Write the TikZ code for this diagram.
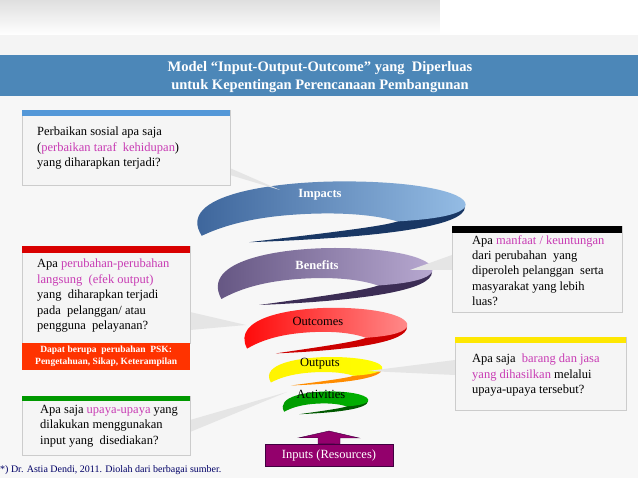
\documentclass[tikz,border=0pt]{standalone}
\usepackage{fontspec}
\setmainfont{Liberation Serif}
\definecolor{mag}{HTML}{C83CB4}
\definecolor{impA}{RGB}{55,95,150}
\definecolor{impB}{RGB}{150,190,230}
\definecolor{impD}{RGB}{25,55,100}
\definecolor{benA}{RGB}{95,80,125}
\definecolor{benB}{RGB}{185,170,210}
\definecolor{benD}{RGB}{60,45,85}
\tikzset{
 qbox/.style={fill=gray!8,draw=gray!40},
 qtext/.style={anchor=north west,align=left,font=\fontsize{12.5}{15.5}\selectfont,inner sep=0pt},
 lbl/.style={font=\fontsize{12.5}{14}\selectfont},
 wlbl/.style={text=white,font=\bfseries\fontsize{12.5}{14}\selectfont},
}
\newcommand\myband[7]{% cx cy rx ry col1 col2 dark
\begin{scope}[shift={(#1,#2)},x=#3pt,y=#4pt]
\fill[#7] (1,0) .. controls (1,-0.6) and (0.4,-0.95) .. (-0.6,-1.1) .. controls (0,-0.8) and (0.4,-0.6) .. (0.5,-0.45) -- cycle;
\shade[left color=#5,right color=#6] (-0.95,-0.9) .. controls (-1.15,0.4) and (-0.4,0.8) .. (0.1,0.8) .. controls (0.7,0.8) and (1.05,0.4) .. (1,0) .. controls (0.95,-0.3) and (0.7,-0.4) .. (0.5,-0.45) .. controls (0.3,-0.2) and (0,-0.15) .. (-0.3,-0.25) .. controls (-0.6,-0.35) and (-0.8,-0.6) .. cycle;
\end{scope}}
\begin{document}
\begin{tikzpicture}[x=1pt,y=-1pt]
\useasboundingbox (0,0) rectangle (638,478);
\fill[gray!6] (0,0) rectangle (638,478);
\shade[top color=gray!25,bottom color=white] (0,0) rectangle (638,35);
\fill[white] (440,0) rectangle (638,35);
\fill[white!70!gray!30] (0,35) rectangle (638,55);
\fill[blue!45!cyan!60!black!70!white] (0,55) rectangle (638,96);
\node[text=white,font=\bfseries\fontsize{14.5}{18}\selectfont,align=center] (title) at (320,77) {Model ``Input-Output-Outcome'' yang \ Diperluas\\untuk Kepentingan Perencanaan Pembangunan};
% spiral
\myband{325}{401}{43}{12}{green!60!black}{green!70!black}{green!35!black}
\myband{325}{369}{57}{15}{yellow!90!orange}{yellow}{orange!90!yellow}
\myband{325}{327}{82}{24}{red}{red!45!white}{red!80!black}
\myband{324}{272}{108}{30}{benA}{benB}{benD}
\myband{330}{207}{135}{32}{impA}{impB}{impD}
\node[wlbl] (imp) at (320,195) {Impacts};
\node[wlbl] (ben) at (317,265) {Benefits};
\node[lbl] (out) at (318,321) {Outcomes};
\node[lbl] (otp) at (320,364) {Outputs};
\node[lbl] (act) at (321,394) {Activities};
% inputs
\node[fill=violet!70!purple,draw=violet!50!black,text=white,minimum width=128pt,minimum height=22pt,lbl] (inp) at (329,455) {Inputs (Resources)};
\fill[violet!70!purple,draw=violet!50!black] ([xshift=-11pt]inp.north) -- ++(0,-6) -- ++(-19,0) -- (inp.north |- 0,431) -- ++(30,7) -- ++(-19,0) -- ++(0,6) -- cycle;
% callout wedges
\coordinate (p1) at (280,190);
\coordinate (p2) at (246,325);
\coordinate (p3) at (287,392);
\coordinate (p4) at (410,270);
\coordinate (p5) at (368,371);
\fill[gray!20] (200,155) -- (p1) -- (230,175) -- cycle;
\fill[gray!20] (190,312) -- (p2) -- (190,330) -- cycle;
\fill[gray!20] (190,420) -- (p3) -- (190,432) -- cycle;
\fill[gray!20] (452,255) -- (p4) -- (452,270) -- cycle;
\fill[gray!20] (455,360) -- (p5) -- (455,375) -- cycle;
% boxes
\node[qbox,minimum width=208pt,minimum height=75pt,anchor=north west] (b1) at (22,110) {};
\fill[cyan!60!blue!70] (22,110) rectangle (230,116);
\node[qtext] (t1) at (37,127) {Perbaikan sosial apa saja\\(\textcolor{mag}{perbaikan taraf \ kehidupan})\\yang diharapkan terjadi?};
\node[qbox,minimum width=168pt,minimum height=97pt,anchor=north west] (b2) at (22,246) {};
\fill[red!85!black] (22,246) rectangle (190,253);
\node[qtext] (t2) at (37,259) {Apa \textcolor{mag}{perubahan-perubahan}\\\textcolor{mag}{langsung \ (efek output)}\\yang \ diharapkan terjadi\\pada \ pelanggan/ atau\\pengguna \ pelayanan?};
\node[fill=red!60!orange,text=white,minimum width=168pt,minimum height=27pt,anchor=north west,align=center,inner sep=0pt,font=\bfseries\fontsize{9.5}{12}\selectfont] (b2b) at (22,343) {Dapat berupa \ perubahan \ PSK:\\Pengetahuan, Sikap, Keterampilan};
\node[qbox,minimum width=168pt,minimum height=59pt,anchor=north west] (b3) at (22,396) {};
\fill[green!60!black] (22,396) rectangle (190,401);
\node[qtext] (t3) at (40,405) {Apa saja \textcolor{mag}{upaya-upaya} yang\\dilakukan menggunakan\\input yang \ disediakan?};
\node[qbox,minimum width=170pt,minimum height=86pt,anchor=north west] (b4) at (452,226) {};
\fill[black] (452,226) rectangle (622,233);
\node[qtext] (t4) at (472,235) {Apa \textcolor{mag}{manfaat / keuntungan}\\dari perubahan \ yang\\diperoleh pelanggan \ serta\\masyarakat yang lebih\\luas?};
\node[qbox,minimum width=171pt,minimum height=73pt,anchor=north west] (b5) at (455,337) {};
\fill[yellow!90!orange] (455,337) rectangle (626,343);
\node[qtext] (t5) at (472,354) {Apa saja \ \textcolor{mag}{barang dan jasa}\\\textcolor{mag}{yang dihasilkan} melalui\\upaya-upaya tersebut?};
\node[anchor=west,inner sep=0pt,text=blue!40!black,font=\fontsize{10}{11}\selectfont] (src) at (0,470) {*) Dr. Astia Dendi, 2011. Diolah dari berbagai sumber.};
\end{tikzpicture}
\end{document}
